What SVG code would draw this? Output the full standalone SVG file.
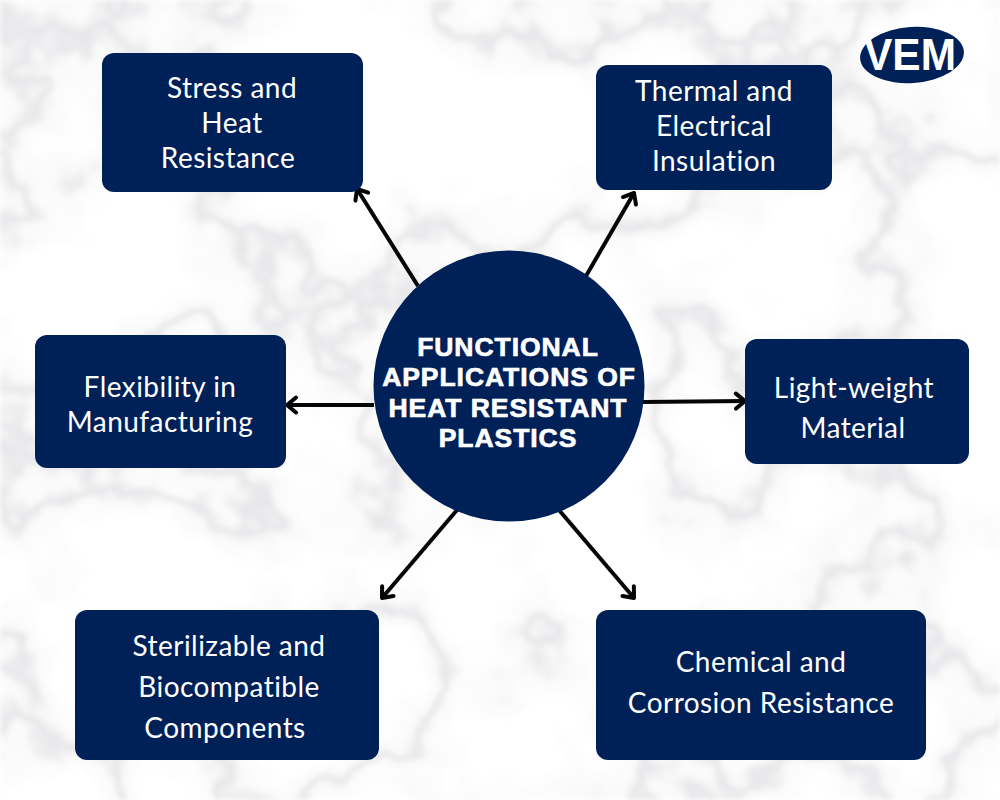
<svg xmlns="http://www.w3.org/2000/svg" width="1000" height="800" viewBox="0 0 1000 800">
<style>
.n{fill:#002058}
.t{font-family:"Lato","Liberation Sans",sans-serif;font-size:28px;fill:#fff;text-anchor:middle;letter-spacing:.45px}
.h{font-family:"Liberation Sans",Arial,sans-serif;font-weight:700;font-size:26.5px;fill:#fff;stroke:#fff;stroke-width:.7px;text-anchor:middle;letter-spacing:.95px}
.c{fill:none;stroke:#050505;stroke-width:4;marker-end:url(#a)}
</style>
<defs>
<marker id="a" markerUnits="userSpaceOnUse" markerWidth="20" markerHeight="20" refX="14" refY="10" orient="auto"><path d="M5 2.500L14 10L5 17.500" fill="none" stroke="#050505" stroke-width="4" stroke-linecap="round" stroke-linejoin="round"/></marker>
<filter id="m" x="0" y="0" width="100%" height="100%" color-interpolation-filters="sRGB">
<feTurbulence type="fractalNoise" baseFrequency="0.0045" numOctaves="5" seed="23"/>
<feColorMatrix type="matrix" values="1 0 0 0 0 1 0 0 0 0 1 0 0 0 0 0 0 0 0 1"/>
<feComponentTransfer><feFuncR type="table" tableValues="1 1 1 1 1 1 1 1 1 1 .99 .98 .91 .98 .99 1 1 1 1 1 1 1 1 1 1"/><feFuncG type="table" tableValues="1 1 1 1 1 1 1 1 1 1 .99 .98 .91 .98 .99 1 1 1 1 1 1 1 1 1 1"/><feFuncB type="table" tableValues="1 1 1 1 1 1 1 1 1 1 .99 .98 .92 .98 .99 1 1 1 1 1 1 1 1 1 1"/></feComponentTransfer>
<feGaussianBlur stdDeviation="2"/>
</filter>
</defs>
<g id="background">
<rect width="1000" height="800" fill="#fff" filter="url(#m)"/>
</g>
<g id="connectors">
<path class="c" d="M418 286L357 189"/>
<path class="c" d="M586 276L634 193"/>
<path class="c" d="M374 405L287 405"/>
<path class="c" d="M642 402L745 401"/>
<path class="c" d="M457 510L382 598"/>
<path class="c" d="M559 510L634 598"/>
</g>
<g id="center"><circle class="n" cx="509" cy="386" r="135.500"/>
<text class="h" x="508" y="356">FUNCTIONAL</text><text class="h" x="509" y="386">APPLICATIONS OF</text><text class="h" x="508" y="417">HEAT RESISTANT</text><text class="h" x="508" y="447">PLASTICS</text></g>
<g id="node-stress"><rect class="n" x="102" y="53" width="261" height="139" rx="12"/>
<text class="t" x="232" y="98">Stress and</text><text class="t" x="232" y="133">Heat</text><text class="t" x="228" y="168">Resistance</text></g>
<g id="node-thermal"><rect class="n" x="596" y="65" width="236" height="125" rx="12"/>
<text class="t" x="714" y="101">Thermal and</text><text class="t" x="714" y="136">Electrical</text><text class="t" x="714" y="171">Insulation</text></g>
<g id="node-flexibility"><rect class="n" x="35" y="335" width="251" height="133" rx="12"/>
<text class="t" x="160" y="397">Flexibility in</text><text class="t" x="160" y="432">Manufacturing</text></g>
<g id="node-lightweight"><rect class="n" x="745" y="339" width="224" height="125" rx="12"/>
<text class="t" x="854" y="398">Light-weight</text><text class="t" x="853" y="438">Material</text></g>
<g id="node-sterilizable"><rect class="n" x="75" y="610" width="304" height="150" rx="12"/>
<text class="t" x="229" y="656">Sterilizable and</text><text class="t" x="229" y="697">Biocompatible</text><text class="t" x="225" y="738">Components</text></g>
<g id="node-chemical"><rect class="n" x="596" y="610" width="330" height="150" rx="12"/>
<text class="t" x="761" y="672">Chemical and</text><text class="t" x="761" y="713">Corrosion Resistance</text></g>
<g id="logo"><ellipse class="n" cx="912" cy="55" rx="52" ry="28" transform="rotate(-4 912 55)"/>
<text x="864" y="70" font-family="'Liberation Sans',sans-serif" font-weight="700" font-size="44" fill="#fff" textLength="92" lengthAdjust="spacingAndGlyphs">VEM</text></g>
</svg>
